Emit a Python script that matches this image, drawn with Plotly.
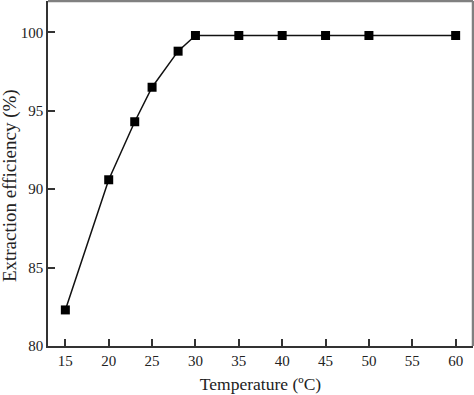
import plotly.graph_objects as go

temperature = [15, 20, 23, 25, 28, 30, 35, 40, 45, 50, 60]
efficiency = [82.3, 90.6, 94.3, 96.5, 98.8, 99.8, 99.8, 99.8, 99.8, 99.8, 99.8]
x_ticks = [15, 20, 25, 30, 35, 40, 45, 50, 55, 60]
y_ticks = [80, 85, 90, 95, 100]

fig = go.Figure()
fig.add_trace(go.Scatter(
    x=temperature, y=efficiency, mode="lines+markers",
    line=dict(color="#111111", width=1.5),
    marker=dict(symbol="square", size=9, color="#000000"),
    showlegend=False,
))

font = dict(family="Liberation Serif, Times New Roman, serif", color="#222222")
fig.update_layout(
    width=474, height=395,
    margin=dict(l=48, r=1, t=1, b=49),
    paper_bgcolor="white", plot_bgcolor="white",
    font=dict(**font, size=15),
    xaxis=dict(
        range=[13, 62], tickvals=x_ticks, ticks="inside", ticklen=7,
        tickcolor="#333333", tickwidth=1.5, showgrid=False, zeroline=False,
        showline=True, linecolor="#333333", linewidth=1.5,
        title=dict(text="Temperature (ºC)", font=dict(size=17.5), standoff=10),
        tickfont=dict(size=15),
    ),
    yaxis=dict(
        range=[80, 102], tickvals=y_ticks, ticks="inside", ticklen=7,
        tickcolor="#333333", tickwidth=1.5, showgrid=False, zeroline=False,
        showline=True, linecolor="#333333", linewidth=1.5,
        tickfont=dict(size=15),
    ),
    annotations=[
        dict(text="Extraction efficiency (%)", xref="paper", yref="paper",
             x=-0.089, y=0.464, xanchor="center", yanchor="middle",
             textangle=-90, showarrow=False, font=dict(size=19)),
    ],
    shapes=[
        dict(type="line", xref="paper", yref="paper", x0=0, x1=1, y0=1, y1=1,
             line=dict(color="#808080", width=2.5)),
        dict(type="line", xref="paper", yref="paper", x0=1, x1=1, y0=0, y1=1,
             line=dict(color="#808080", width=2.5)),
    ],
)

fig.write_html(
    "out.html",
    config={"displayModeBar": False},
    post_script="document.body.style.margin='0';document.body.style.overflow='hidden';",
)
